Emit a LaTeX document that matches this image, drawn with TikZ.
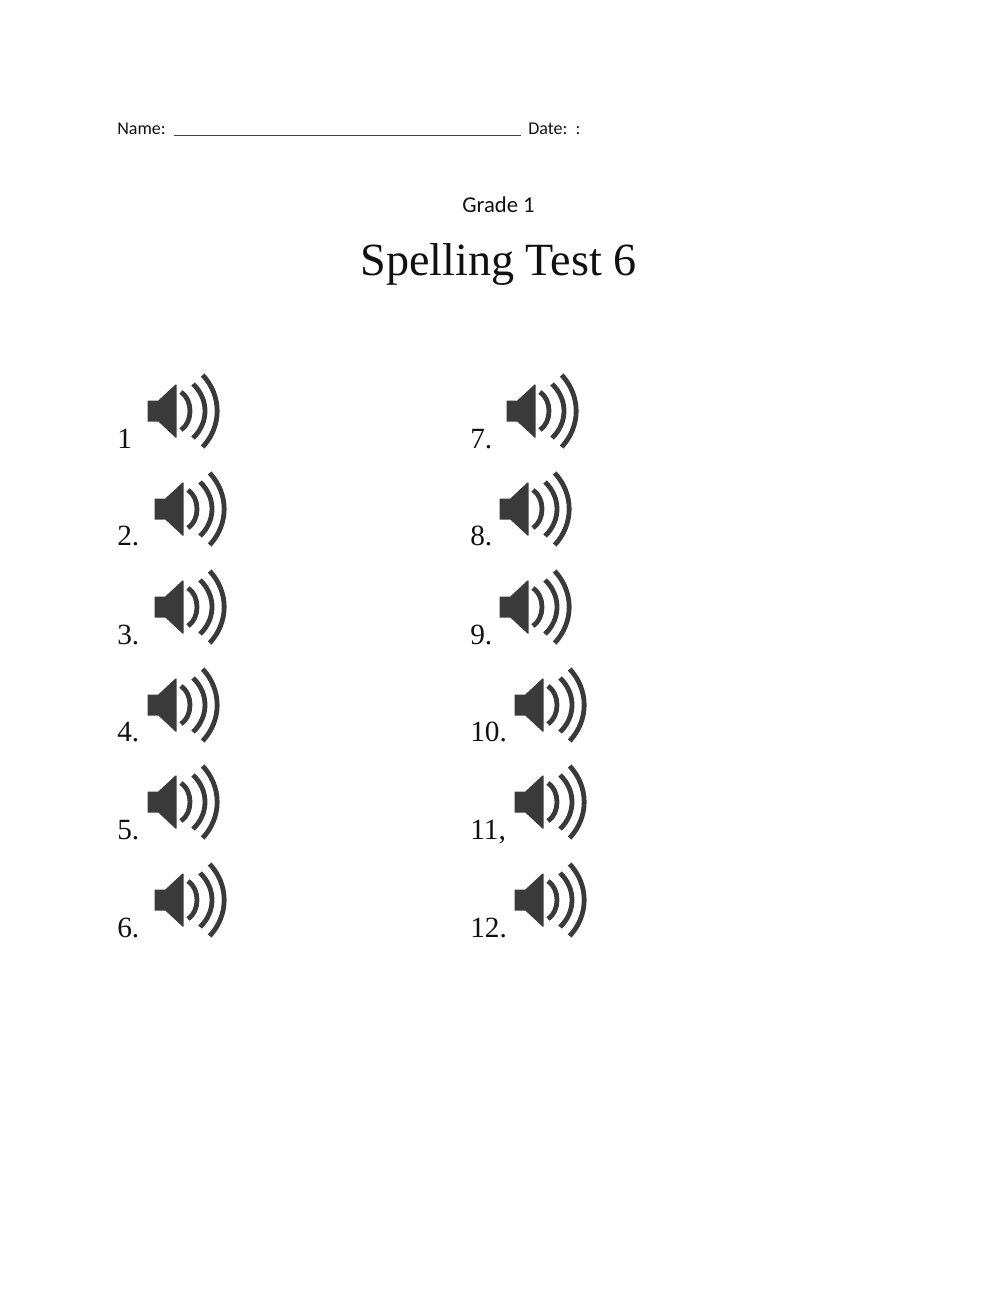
\documentclass[tikz,border=0pt]{standalone}
\usepackage{fontspec}
\setmainfont{Liberation Serif}
\newfontfamily\calib{Carlito}
\definecolor{spk}{HTML}{3A3A3A}
\definecolor{ink}{HTML}{111111}
\tikzset{
  small/.style={font=\calib\fontsize{13.5}{16}\selectfont,text=ink,inner sep=0pt},
  numlabel/.style={anchor=base west,font=\fontsize{22}{26}\selectfont,text=ink,inner sep=0pt},
  wave/.style={draw=spk,line width=3.6pt,line cap=butt},
  speaker/.pic={
    \fill[spk] (0.7,-10.5) -- (11.3,-10.5) -- (28.5,-26.5) -- (29.7,-26.5) -- (29.7,26.5) -- (28.5,26.5) -- (11.3,10.5) -- (0.7,10.5) -- cycle;
    \draw[wave] (34,-19) .. controls (46,-11) and (46,11) .. (34,19);
    \draw[wave] (46,-27) .. controls (62,-12) and (62,12) .. (46,27);
    \draw[wave] (55.7,-36) .. controls (75,-15) and (75,15) .. (55.7,36);
  }
}
\begin{document}
\begin{tikzpicture}[x=0.75pt,y=-0.75pt]
\useasboundingbox (0,0) rectangle (1000,1291);
\fill[white] (0,0) rectangle (1000,1291);
\node[small,anchor=base west] (name) at (117,134.5) {Name:};
\coordinate (lineA) at (174,135.5);
\coordinate (lineB) at (521,135.5);
\draw[ink!80,line width=0.8pt] (lineA) -- (lineB);
\node[small,anchor=base west] (date) at (528,134.5) {Date:\ \ :};
\node[anchor=base,inner sep=0pt,text=ink,font=\calib\fontsize{17}{20}\selectfont] (grade) at (498.5,213) {Grade 1};
\node[anchor=base,inner sep=0pt,text=ink,font=\fontsize{34.6}{40}\selectfont] (title) at (498.5,276) {Spelling Test 6};
\foreach \n/\t/\lx/\by/\ix/\iy in {
 a/{1}/117/448/147/411,
 b/{2.}/117/545/154/509,
 c/{3.}/117/644/154/607,
 d/{4.}/117/741/147/705,
 e/{5.}/117/839/147/802,
 f/{6.}/117/937/154/900,
 g/{7.}/470/448/506/411,
 h/{8.}/470/545/499/509,
 i/{9.}/470/644/499/607,
 j/{10.}/470/741/514/705,
 k/{11,}/470/839/514/802,
 l/{12.}/470/937/514/900}{
  \node[numlabel] (num\n) at (\lx,\by) {\t};
  \pic (spk\n) at (\ix,\iy) {speaker};
}
\end{tikzpicture}
\end{document}
